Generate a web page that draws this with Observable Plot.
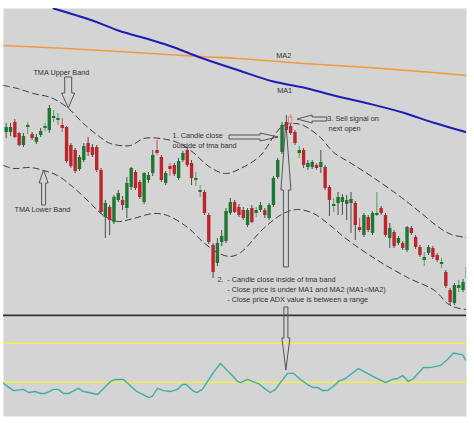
<!DOCTYPE html>
<html><head><meta charset="utf-8">
<script src="https://cdn.jsdelivr.net/npm/d3@7"></script>
<script src="https://cdn.jsdelivr.net/npm/@observablehq/plot@0.6"></script>
<style>
body{margin:0;background:#fff;}
#chart{position:relative;width:474px;height:423px;overflow:hidden;}
#chart svg{position:absolute;left:0;overflow:visible;}
</style></head><body><div id="chart"></div>
<script>
// price in pips above the panel floor
const candleOpen = [
 184,184,194,183,171,189,182,174,181,188,
 186,198,196,191,189,171,166,147,156,173,
 169,169,146,99,109,94,116,116,108,129,
 144,134,114,136,143,166,159,133,150,151,
 138,156,166,153,136,124,124,101,71,53,
 74,75,103,114,109,106,91,108,103,106,
 106,98,111,139,164,194,190,184,163,166,
 149,149,151,149,149,129,110,113,114,112,
 113,113,89,81,99,83,101,108,101,78,
 84,73,73,66,88,79,69,56,63,68,
 61,52,44,26,13,28,26,38];
const candleClose = [
 189,189,179,171,180,191,178,179,185,190,
 208,200,198,188,155,150,145,159,170,164,
 161,146,104,113,96,119,123,111,133,148,
 128,119,143,141,161,163,136,143,147,142,
 155,163,151,138,138,126,103,74,44,73,
 80,105,114,104,101,98,106,94,106,111,
 101,111,138,156,191,186,183,173,166,151,
 153,154,148,154,128,116,112,119,119,116,
 117,91,86,101,86,103,103,103,81,88,
 70,78,68,89,83,69,61,59,69,59,
 56,54,30,14,31,31,34,49];
const candleHigh = [
 193,193,197,184,183,194,184,182,188,193,
 211,206,203,198,190,173,168,161,173,179,
 172,171,148,116,111,121,126,120,139,149,
 146,136,144,144,166,176,161,145,153,153,
 158,165,168,156,144,131,126,103,73,78,
 86,108,118,116,112,109,108,111,109,114,
 108,113,140,158,194,201,193,186,170,168,
 156,156,153,166,151,131,118,124,122,121,
 124,115,98,103,101,105,124,110,103,93,
 86,80,75,90,90,81,71,64,71,70,
 63,58,46,28,33,36,37,54];
const candleLow = [
 178,180,178,170,169,182,176,172,179,185,
 183,194,191,184,153,148,143,145,154,160,
 159,144,102,78,81,92,114,106,98,126,
 126,117,112,133,140,161,134,131,140,140,
 136,154,149,131,130,119,101,72,38,50,
 70,73,101,103,99,96,89,93,99,104,
 98,96,109,137,162,183,181,171,158,148,
 146,147,146,143,126,100,104,101,101,96,
 83,76,84,79,84,81,100,101,79,68,
 68,71,66,64,81,67,59,50,61,57,
 54,48,28,11,11,24,24,36];

const ma1Index = [11,20,26,34,39,45,54,62,69,76,84,92,99,107];
const ma1 = [308,296,286,276,269,259,246,235,229,221,213,204,194,184];
const ma2Index = [-1,14,30,45,54,69,84,99,107];
const ma2 = [271,268,264,260,258,253,249,244,241];

const upperIndex = [-0.6,2.6,6.3,10.3,14.2,17.9,21.9,24.2,28.8,31.9,35.8,39.7,42.8,47.4,50.9,54.4,59,62.5,64.3,66.9,69,72.9,76,80.1,85.5,91.7,96.4,100.1,103.3,106.8];
const upperBand = [231,228,223,219,209,193,179,173,171,178,178,174,166,149,143,148,161,183,191,193,191,179,164,153,138,119,103,90,82,79];
const lowerIndex = [-0.6,1.7,5.6,8.7,11.9,15.6,19.6,22.6,25.8,29.5,34.2,37.4,42.1,45.8,49,52,54.4,59.7,64.3,67.6,71.3,75.2,78.5,85.5,93.1,99.4,102.4,104.3,106.8];
const lowerBand = [151,148,149,146,141,129,113,101,95,98,103,101,89,74,64,60,64,88,103,107,103,91,79,58,39,26,13,9,7];

const adxIndex = [-0.6,1.7,4,5.2,6.8,8,9.1,11,12.1,13.3,14.5,16.8,17.9,19.1,21.2,24.2,25.4,27.2,30,31.2,33,33.9,35.1,36.5,38.1,39.7,40.9,41.8,43.2,44.2,45.5,48.1,49.7,52,53.7,54.4,56,57.1,58.5,60.2,61.3,62.5,63.6,65.3,66.7,68.3,69.9,71.1,72.2,73.4,74.5,75.9,77.1,78.7,81.7,83.8,85.2,88,89.6,90.8,92,93.3,94.5,96.8,98.4,100.8,102.4,103.8,105.9,107];
const adx = [19.3,15.7,16.3,14.7,15.2,14.2,14.2,16.3,16.3,14.2,14.2,16.8,15.2,14.7,13.7,20.4,21.4,21.4,15.7,14.2,12.2,12.7,16.8,15.7,15.2,16.3,18.8,18.8,15.7,14.7,16.3,25.0,29.6,24.5,20.4,19.8,21.4,20.4,19.3,16.3,14.7,16.3,19.8,24.5,24.5,21.4,18.8,17.3,17.3,15.7,15.7,17.8,20.4,21.9,27.0,24.5,22.9,19.8,21.4,21.9,23.4,20.4,21.9,27.5,27.5,28.6,31.6,35.0,34.0,30.1];
const adxLevels = [20, 40];

const signalIndex = [66];
const signalTop = [202];
const signalBodyTop = [199];
const signalBodyBottom = [193];

const candles = candleOpen.map((o, i) => ({i, open: o, close: candleClose[i], high: candleHigh[i], low: candleLow[i]}));
const ma1Data = ma1Index.map((i, k) => ({i, v: ma1[k]}));
const ma2Data = ma2Index.map((i, k) => ({i, v: ma2[k]}));
const upperData = upperIndex.map((i, k) => ({i, v: upperBand[k]}));
const lowerData = lowerIndex.map((i, k) => ({i, v: lowerBand[k]}));
const adxData = adxIndex.map((i, k) => ({i, v: adx[k]}));
const signals = signalIndex.map((i, k) => ({i, top: signalTop[k], b1: signalBodyTop[k], b2: signalBodyBottom[k]}));

const GREEN = "#1d7632", RED = "#bc252b";
const up = d => d.close >= d.open;
const bodyColor = d => up(d) ? GREEN : RED;
const wickColor = d => Math.abs(d.close - d.open) <= 3 ? (up(d) ? "#4f9e5c" : "#c85058") : "#4d4d4d";

function hollowArrows(specs) {
  return (index, scales) => {
    const sx = scales.x, sy = scales.y;
    const g = d3.create("svg:g");
    for (const s of specs) {
      const x0 = sx(s.x1), y0 = sy(s.y1), x1 = sx(s.x2), y1 = sy(s.y2);
      const len = Math.hypot(x1 - x0, y1 - y0);
      const ux = (x1 - x0) / len, uy = (y1 - y0) / len;
      const nx = -uy, ny = ux;
      const bx = x1 - ux * s.hl, by = y1 - uy * s.hl;
      const pts = [
        [x0 + nx * s.w, y0 + ny * s.w],
        [bx + nx * s.w, by + ny * s.w],
        [bx + nx * s.hw, by + ny * s.hw],
        [x1, y1],
        [bx - nx * s.hw, by - ny * s.hw],
        [bx - nx * s.w, by - ny * s.w],
        [x0 - nx * s.w, y0 - ny * s.w]
      ];
      g.append("path")
        .attr("d", "M" + pts.map(p => p[0].toFixed(1) + "," + p[1].toFixed(1)).join("L") + "Z")
        .attr("fill", "none").attr("stroke", "#555").attr("stroke-width", 1);
    }
    return g.node();
  };
}

const xDomain = [-0.63, 106.8];
const font = "Liberation Sans";
const txt = {fontSize: 7.3, fill: "#333", fontFamily: font};

const pricePlot = Plot.plot({
  width: 474, height: 316,
  marginTop: 8, marginBottom: 0, marginLeft: 3, marginRight: 8,
  x: {domain: xDomain, axis: null},
  y: {domain: [0, 308], axis: null},
  style: {background: "transparent", fontFamily: font},
  marks: [
    Plot.frame({fill: "#d4d4d4", stroke: null}),
    Plot.line(ma2Data, {x: "i", y: "v", stroke: "#f29a3c", strokeWidth: 1.6, curve: "catmull-rom", clip: true}),
    Plot.line(ma1Data, {x: "i", y: "v", stroke: "#1d1db5", strokeWidth: 2, curve: "catmull-rom", clip: true}),
    Plot.line(upperData, {x: "i", y: "v", stroke: "#3a3a3a", strokeWidth: 1, strokeDasharray: "6,4", curve: "catmull-rom", clip: true}),
    Plot.line(lowerData, {x: "i", y: "v", stroke: "#3a3a3a", strokeWidth: 1, strokeDasharray: "6,4", curve: "catmull-rom", clip: true}),
    Plot.ruleX(candles, {x: "i", y1: "low", y2: "high", stroke: wickColor, strokeWidth: 1, clip: true}),
    Plot.ruleX(candles, {x: "i", y1: "open", y2: "close", stroke: bodyColor, strokeWidth: 3.4, clip: true}),
    Plot.ruleX(signals, {x: "i", y1: "b1", y2: "top", stroke: "#e07c88", strokeWidth: 1}),
    Plot.rect(signals, {x1: d => d.i - 0.4, x2: d => d.i + 0.4, y1: "b2", y2: "b1", fill: "none", stroke: "#e07c88", strokeWidth: 1}),
    Plot.text(["MA2"], {x: 64.4, y: 261, text: d => d, ...txt}),
    Plot.text(["MA1"], {x: 64.6, y: 226, text: d => d, ...txt}),
    Plot.text(["TMA Upper Band"], {x: 12.8, y: 244, text: d => d, ...txt}),
    Plot.text(["TMA Lower Band"], {x: 8.4, y: 107, text: d => d, ...txt}),
    Plot.text(["1. Candle close"], {x: 38.6, y: 181, text: d => d, textAnchor: "start", ...txt}),
    Plot.text(["outside of tma band"], {x: 38.6, y: 171, text: d => d, textAnchor: "start", ...txt}),
    Plot.text(["3. Sell signal on"], {x: 74.5, y: 198, text: d => d, textAnchor: "start", ...txt}),
    Plot.text(["next open"], {x: 74.8, y: 188, text: d => d, textAnchor: "start", ...txt}),
    Plot.text(["2."], {x: 49, y: 37, text: d => d, textAnchor: "start", ...txt}),
    Plot.text(["- Candle close inside of tma band"], {x: 51.3, y: 37, text: d => d, textAnchor: "start", ...txt}),
    Plot.text(["- Close price is under MA1 and MA2 (MA1<MA2)"], {x: 51.3, y: 27, text: d => d, textAnchor: "start", ...txt}),
    Plot.text(["- Close price ADX value is between a range"], {x: 51.3, y: 17, text: d => d, textAnchor: "start", ...txt}),
    hollowArrows([
      {x1: 14.5, y1: 239, x2: 14.5, y2: 208, w: 3.5, hw: 6.5, hl: 15},
      {x1: 8.8, y1: 111, x2: 8.8, y2: 146, w: 2, hw: 4.5, hl: 13},
      {x1: 51.8, y1: 179, x2: 63.2, y2: 179, w: 2, hw: 4, hl: 18},
      {x1: 74.5, y1: 197, x2: 67.6, y2: 197, w: 2, hw: 4, hl: 15},
      {x1: 65, y1: 49, x2: 65, y2: 194, w: 2.5, hw: 5, hl: 68}
    ]),
    Plot.ruleY([0], {stroke: "#333", strokeWidth: 2, dy: -1})
  ]
});
pricePlot.style.top = "0px";

const adxPlot = Plot.plot({
  width: 474, height: 107,
  marginTop: 0, marginBottom: 7, marginLeft: 3, marginRight: 8,
  x: {domain: xDomain, axis: null},
  y: {domain: [2.4, 53.7], axis: null},
  style: {background: "transparent", fontFamily: font},
  marks: [
    Plot.frame({fill: "#d4d4d4", stroke: null}),
    Plot.ruleY(adxLevels, {stroke: "#f2ee4e", strokeWidth: 1.6}),
    Plot.line(adxData, {x: "i", y: "v", stroke: "#3bb0a2", strokeWidth: 1.4, clip: true}),
    hollowArrows([
      {x1: 65, y1: 58.3, x2: 65, y2: 26, w: 2, hw: 4, hl: 32}
    ])
  ]
});
adxPlot.style.top = "316px";

const el = document.getElementById("chart");
el.appendChild(pricePlot);
el.appendChild(adxPlot);
</script></body></html>
